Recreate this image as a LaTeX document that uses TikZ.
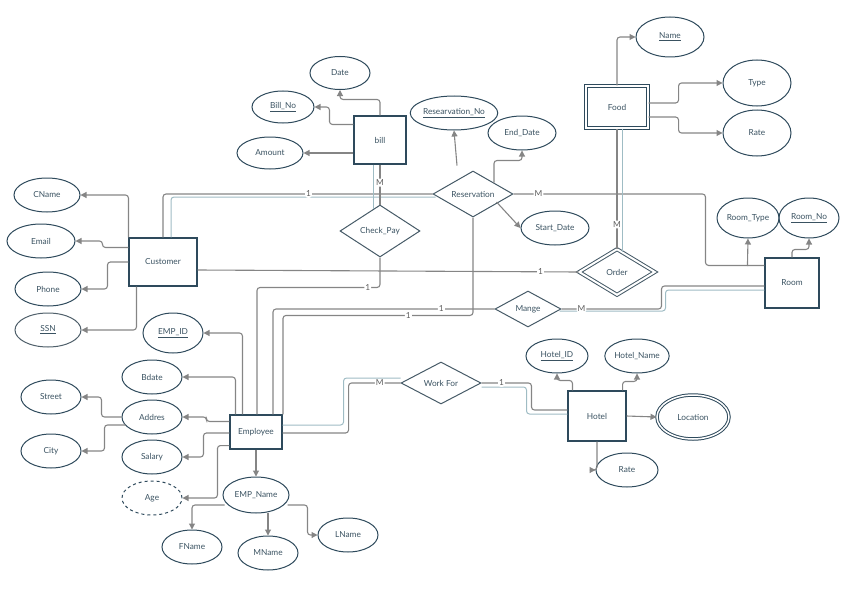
\documentclass[tikz,border=0pt]{standalone}
\usepackage{fontspec}
\setmainfont{Lato}
\usetikzlibrary{shapes.geometric,arrows.meta,calc}
\definecolor{ink}{HTML}{2E4A5C}
\definecolor{ln}{HTML}{858585}
\definecolor{tl}{HTML}{9FBCC4}
\begin{document}
\begin{tikzpicture}[x=1pt,y=-1pt,font=\fontsize{8.3}{10}\selectfont,
  every node/.style={text=ink!85!gray},
  ent/.style={draw=ink,line width=1.1pt,rectangle,inner sep=0pt},
  att/.style={draw=ink,line width=1pt,ellipse,inner sep=0pt,minimum width=66pt,minimum height=34pt},
  rel/.style={draw=ink!70!gray,line width=1pt,diamond,aspect=1.8,inner sep=0pt},
  attr/.style={draw=ln,line width=1.1pt,-{Triangle[length=6pt,width=6pt]},rounded corners=3pt},
  link/.style={draw=ln,line width=1.1pt,rounded corners=3pt},
  tlink/.style={draw=tl,line width=1pt,rounded corners=3pt},
  lbl/.style={fill=white,inner sep=1pt,text=ln!70!black}]
\useasboundingbox (0,0) rectangle (865,602);
% entities
\node[ent,minimum width=68pt,minimum height=48pt] (Customer) at (163,262) {Customer};
\node[ent,minimum width=52pt,minimum height=48pt] (bill) at (380,140) {bill};
\node[ent,double,double distance=2pt,minimum width=62pt,minimum height=42pt] (Food) at (617,107) {Food};
\node[ent,minimum width=54pt,minimum height=50pt] (Room) at (792,283) {Room};
\node[ent,minimum width=52pt,minimum height=34pt] (Employee) at (256,432) {Employee};
\node[ent,minimum width=58pt,minimum height=50pt] (Hotel) at (597,416) {Hotel};
% relationships
\node[rel,minimum width=80pt,minimum height=46pt] (Reservation) at (473,194) {Reservation};
\node[rel,minimum width=80pt,minimum height=52pt] (CheckPay) at (380,231) {Check\_Pay};
\node[rel,double,double distance=2pt,minimum width=76pt,minimum height=46pt] (Order) at (617,272) {Order};
\node[rel,minimum width=66pt,minimum height=36pt] (Mange) at (528,309) {Mange};
\node[rel,minimum width=80pt,minimum height=42pt] (WorkFor) at (441,383) {Work For};
% attributes
\node[att,minimum width=68pt,minimum height=40pt] (Name) at (670,37) {\underline{Name}};
\node[att,minimum width=68pt,minimum height=46pt] (Type) at (757,83) {Type};
\node[att,minimum width=68pt,minimum height=46pt] (FRate) at (757,133) {Rate};
\node[att,minimum width=60pt,minimum height=33pt] (Date) at (340,73) {Date};
\node[att,minimum width=62pt,minimum height=32pt] (BillNo) at (283,107) {\underline{Bill\_No}};
\node[att,minimum width=66pt,minimum height=32pt] (Amount) at (270,153) {Amount};
\node[att,minimum width=82pt,minimum height=34pt] (ResNo) at (454,113) {\underline{Researvation\_No}};
\node[att,minimum width=68pt,minimum height=34pt] (EndDate) at (522,133) {End\_Date};
\node[att,minimum width=68pt,minimum height=34pt] (StartDate) at (555,228) {Start\_Date};
\node[att,minimum width=62pt,minimum height=40pt] (RoomType) at (748,218) {Room\_Type};
\node[att,minimum width=60pt,minimum height=40pt] (RoomNo) at (809,218) {\underline{Room\_No}};
\node[att] (CName) at (47,195) {CName};
\node[att,minimum width=68pt] (Email) at (41,241) {Email};
\node[att] (Phone) at (48,289) {Phone};
\node[att,draw=ink!60!gray] (SSN) at (48,330) {\underline{SSN}};
\node[att,minimum width=60pt,minimum height=40pt] (EMPID) at (173,333) {\underline{EMP\_ID}};
\node[att,minimum width=60pt] (Bdate) at (152,377) {Bdate};
\node[att,minimum width=60pt] (Street) at (51,397) {Street};
\node[att,minimum width=60pt] (Addres) at (152,417) {Addres};
\node[att,minimum width=60pt] (City) at (51,451) {City};
\node[att,minimum width=60pt] (Salary) at (152,457) {Salary};
\node[att,minimum width=60pt,dashed] (Age) at (152,498) {Age};
\node[att,minimum width=66pt,minimum height=36pt] (EMPName) at (256,495) {EMP\_Name};
\node[att,minimum width=60pt] (FName) at (192,547) {FName};
\node[att,minimum width=60pt] (MName) at (268,553) {MName};
\node[att,minimum width=60pt] (LName) at (348,535) {LName};
\node[att,minimum width=62pt] (HotelID) at (557,356) {\underline{Hotel\_ID}};
\node[att,minimum width=62pt] (HotelName) at (637,356) {Hotel\_Name};
\node[att,double,double distance=1.5pt,minimum width=72pt,minimum height=44pt] (Location) at (693,417) {Location};
\node[att,minimum width=62pt] (HRate) at (627,470) {Rate};
% attribute links
\draw[attr] (Food.north) |- (Name.west);
\draw[attr] ($(Food.east)+(0,-4)$) -- ++(30,0) |- (Type.west);
\draw[attr] ($(Food.east)+(0,10)$) -- ++(30,0) |- (FRate.west);
\draw[attr] (bill.north) -- ++(0,-16) -| (Date.south);
\draw[attr] ($(bill.north west)+(0,9)$) -- ++(-24,0) |- (BillNo.east);
\draw[attr] ($(bill.west)+(0,13)$) -- (Amount.east);
\draw[attr] ($(Reservation.north)+(-16,-5)$) -- (ResNo.south);
\draw[attr] ($(Reservation.north)+(21,12)$) -- ++(0,-22) -| (EndDate.south);
\draw[attr] ($(Reservation.east)+(-17,8)$) -- (StartDate.west);
\draw[attr] ($(Room.west)+(-17,-17)$) -- (RoomType.south);
\draw[attr] (Room.north) -- ++(0,-8) -| (RoomNo.south);
\draw[attr] ($(Customer.north west)+(0,0)$) |- (CName.east);
\draw[attr] ($(Customer.north west)+(0,10)$) -- ++(-26,0) |- (Email.east);
\draw[attr] ($(Customer.west)+(0,0)$) -- ++(-21,0) |- (Phone.east);
\draw[attr] ($(Customer.south west)+(8,0)$) |- (SSN.east);
\draw[attr] ($(Employee.north west)+(13,0)$) |- (EMPID.east);
\draw[attr] ($(Employee.north west)+(6,0)$) |- (Bdate.east);
\draw[attr] ($(Employee.north west)+(0,7)$) -- ++(-23,0) |- (Addres.east);
\draw[attr] ($(Employee.west)+(0,1)$) -- ++(-26,0) |- (Salary.east);
\draw[attr] ($(Employee.south west)+(0,-4)$) -- ++(-12,0) |- (Age.east);
\draw[attr] (Employee.south) -- (EMPName.north);
\draw[attr] (Addres.west) -- ++(-20,0) |- (Street.east);
\draw[attr] ($(Addres.west)+(4,8)$) -- ++(-21,0) |- (City.east);
\draw[attr] ($(EMPName.west)+(2,10)$) -| (FName.north);
\draw[attr] ($(EMPName.south)+(12,-1)$) -- (MName.north);
\draw[attr] ($(EMPName.east)+(-2,10)$) -- ++(20,0) |- (LName.west);
\draw[attr] ($(Hotel.north west)+(5,0)$) -- ++(0,-10) -| (HotelID.south);
\draw[attr] ($(Hotel.north east)+(-4,0)$) -- ++(0,-9) -| (HotelName.south);
\draw[attr] (Hotel.east) -- (Location.west);
\draw[attr] (Hotel.south) |- (HRate.west);
% relationship links
\draw[tlink] ($(Customer.north)+(8,0)$) |- ($(Reservation.west)+(3,3)$);
\draw[link] (Customer.north) |- (Reservation.west) node[lbl,pos=0.77] {1};
\draw[tlink] ($(bill.south)+(-7,0)$) -- ($(CheckPay.north)+(-7,4)$);
\draw[link] (bill.south) -- (CheckPay.north) node[lbl,pos=0.45] {M};
\draw[link] (CheckPay.south) -- ++(0,30) -- ++(-123,0) node[lbl,pos=0.1] {1} -- ($(Employee.north)+(1,0)$);
\draw[link] (Reservation.east) -- ++(192,0) node[lbl,pos=0.13] {M} |- ($(Room.north west)+(0,8)$);
\draw[link] (Reservation.south) |- ($(Employee.north)+(27,-99)$) node[lbl,pos=0.67] {1} -- ($(Employee.north)+(27,0)$);
\draw[link] (Mange.west) -| ($(Employee.north)+(17,0)$) node[lbl,pos=0.12] {1};
\draw[tlink] ($(Mange.east)+(-2,2)$) -- ++(106,0) |- ($(Room.west)+(0,7)$);
\draw[link] (Mange.east) -- ++(100,0) node[lbl,pos=0.2] {M} |- ($(Room.west)+(0,3)$);
\draw[link] ($(Customer.east)+(0,8)$) -- (Order.west) node[lbl,pos=0.9] {1};
\draw[tlink] ($(Food.south)+(5,0)$) -- ($(Order.north)+(5,3)$);
\draw[link] (Food.south) -- (Order.north) node[lbl,pos=0.8] {M};
\draw[tlink] ($(Employee.east)+(0,-7)$) -- ++(61,0) |- ($(WorkFor.west)+(0,-5)$);
\draw[link] ($(Employee.east)+(0,1)$) -- ++(66,0) |- (WorkFor.west) node[lbl,pos=0.8] {M};
\draw[tlink] ($(WorkFor.east)+(0,4)$) -- ++(45,0) |- ($(Hotel.west)+(0,-2)$);
\draw[link] (WorkFor.east) -- ++(50,0) node[lbl,pos=0.4] {1} |- ($(Hotel.west)+(0,-6)$);
\end{tikzpicture}
\end{document}
